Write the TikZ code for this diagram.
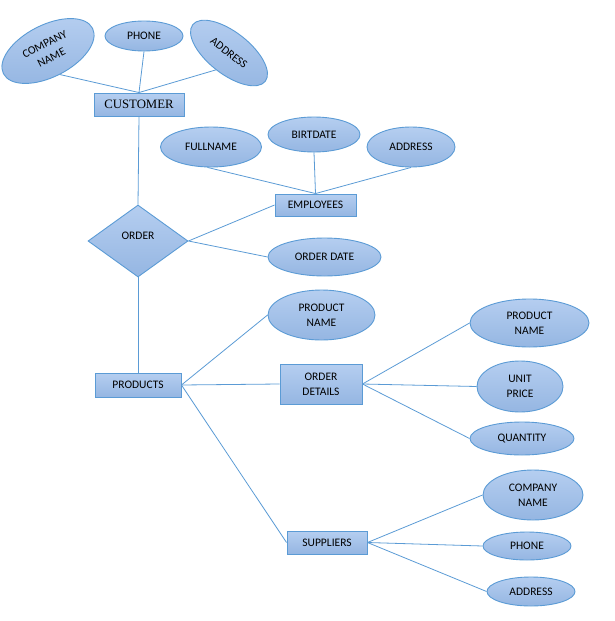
\documentclass[tikz,border=0pt]{standalone}
\usepackage{fontspec}
\setmainfont{Carlito}
\newfontfamily\custfont{Liberation Serif}
\usetikzlibrary{shapes.geometric}
\definecolor{edgeblue}{HTML}{5B9BD5}
\definecolor{filltop}{HTML}{B5CEF0}
\definecolor{fillbot}{HTML}{95B6E2}
\tikzset{
  base/.style={draw=edgeblue, line width=0.9pt, top color=filltop, bottom color=fillbot, inner sep=0pt, align=center, font=\fontsize{11.5}{15}\selectfont},
  attr/.style={base, ellipse},
  ent/.style={base, rectangle},
  rel/.style={base, diamond},
  link/.style={draw=edgeblue, line width=0.8pt}
}
\begin{document}
\begin{tikzpicture}[x=1pt,y=-1pt]
\useasboundingbox (0,0) rectangle (615,621);
% customer
\node[attr, minimum width=100pt, minimum height=52pt, rotate=27] (ccn) at (48,51) {COMPANY\\NAME};
\node[attr, minimum width=78pt, minimum height=30pt] (cph) at (144,36) {PHONE};
\node[attr, minimum width=92pt, minimum height=42pt, rotate=-38] (cad) at (229,53) {ADDRESS};
\node[ent, minimum width=90pt, minimum height=23pt, font=\custfont\fontsize{12.8}{14}\selectfont] (cust) at (139,104.5) {CUSTOMER};
% employees
\node[attr, minimum width=101pt, minimum height=40pt] (efn) at (211,147) {FULLNAME};
\node[attr, minimum width=92pt, minimum height=35pt] (ebd) at (314,134.5) {BIRTDATE};
\node[attr, minimum width=88pt, minimum height=40pt] (ead) at (411,147) {ADDRESS};
\node[ent, minimum width=81pt, minimum height=22pt] (emp) at (315.5,205) {EMPLOYEES};
% order
\node[rel, minimum width=100pt, minimum height=72pt, text depth=10pt] (ord) at (138,241) {ORDER};
\node[attr, minimum width=113pt, minimum height=38pt] (odt) at (324.5,257) {ORDER DATE};
% products
\node[ent, minimum width=86pt, minimum height=24pt] (prod) at (138,385) {PRODUCTS};
\node[attr, minimum width=107pt, minimum height=50pt] (ppn) at (321.5,315) {PRODUCT\\NAME};
\node[ent, minimum width=82pt, minimum height=40pt] (odet) at (321,384) {ORDER\\DETAILS};
\node[attr, minimum width=119pt, minimum height=48pt] (opn) at (529.5,323) {PRODUCT\\NAME};
\node[attr, minimum width=86pt, minimum height=51pt] (oup) at (520,386.5) {UNIT\\PRICE};
\node[attr, minimum width=104pt, minimum height=33pt] (oqt) at (522,438.5) {QUANTITY};
% suppliers
\node[ent, minimum width=80pt, minimum height=23pt] (sup) at (327,542.5) {SUPPLIERS};
\node[attr, minimum width=100pt, minimum height=50pt] (scn) at (533,495) {COMPANY\\NAME};
\node[attr, minimum width=88pt, minimum height=28pt] (sph) at (527,546) {PHONE};
\node[attr, minimum width=88pt, minimum height=29pt] (sad) at (531,591.5) {ADDRESS};
% links
\draw[link] (cust.north) -- (ccn.south);
\draw[link] (cust.north) -- (cph.south);
\draw[link] (cust.north) -- (cad.south);
\draw[link] (cust.south) -- (ord.north);
\draw[link] (emp.north) -- (efn.-100);
\draw[link] (emp.north) -- (ebd.south);
\draw[link] (emp.north) -- (ead.south);
\draw[link] (ord.east) -- (emp.west);
\draw[link] (ord.east) -- (odt.west);
\draw[link] (ord.south) -- (prod.north);
\draw[link] (prod.east) -- (ppn.west);
\draw[link] (prod.east) -- (odet.west);
\draw[link] (prod.east) -- (sup.west);
\draw[link] (odet.east) -- (opn.west);
\draw[link] (odet.east) -- (oup.west);
\draw[link] (odet.east) -- (oqt.west);
\draw[link] (sup.east) -- (scn.west);
\draw[link] (sup.east) -- (sph.west);
\draw[link] (sup.east) -- (sad.west);
\end{tikzpicture}
\end{document}
